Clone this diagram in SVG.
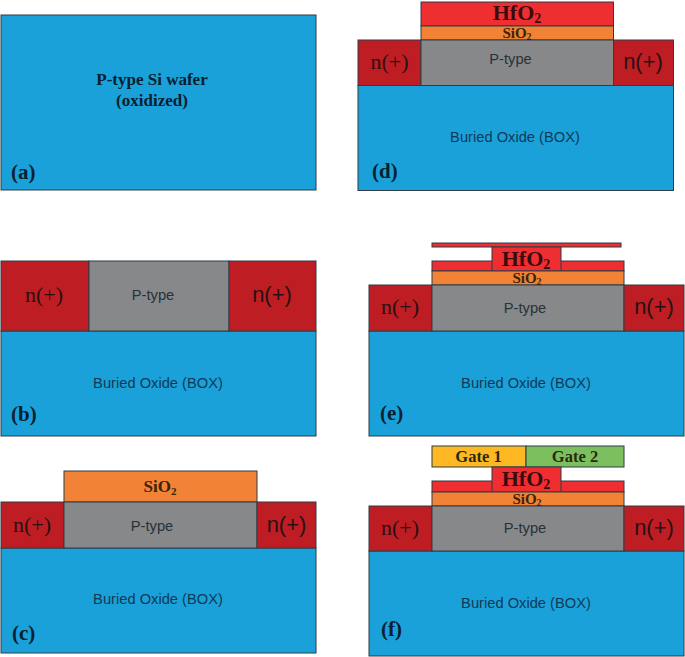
<svg xmlns="http://www.w3.org/2000/svg" width="685" height="657" viewBox="0 0 685 657">
<style>
rect{stroke:#2f3c46;stroke-width:1}
.box{fill:#1ba1da}.n{fill:#be1e23}.p{fill:#87888a}.si{fill:#f28235}.hf{fill:#ee2e31}.g1{fill:#fdb823}.g2{fill:#7cbf5f}
text{text-anchor:middle}
.s{font-family:"Liberation Sans",Arial,sans-serif;font-size:14.7px;fill:#26323a}
.bx{fill:#0f3a56}
.ns{font-family:"Liberation Sans",Arial,sans-serif;font-size:22px;fill:#2a1012}
.nf{font-family:"Liberation Serif","Times New Roman",serif;font-size:22px;fill:#2a1012}
.l{font-family:"Liberation Serif","Times New Roman",serif;font-weight:bold;font-size:21px;fill:#08202f;text-anchor:start}
.hft{font-family:"Liberation Serif","Times New Roman",serif;font-weight:bold;font-size:22px;fill:#3a0c0e}
.sit{font-family:"Liberation Serif","Times New Roman",serif;font-weight:bold;font-size:15px;fill:#3a2408}
.g{font-family:"Liberation Serif","Times New Roman",serif;font-weight:bold;font-size:16.5px;fill:#2a2a10}
.a{font-family:"Liberation Serif","Times New Roman",serif;font-weight:bold;font-size:17px;fill:#08202f}
</style>
<g id="panel-a">
<rect class="box" x="1" y="15" width="315" height="175"/>
<text class="a" x="152" y="85">P-type Si wafer</text>
<text class="a" x="152" y="106">(oxidized)</text>
<text class="l" x="11" y="179">(a)</text>
</g>
<g id="panel-b">
<rect class="box" x="1" y="331" width="315" height="105"/>
<rect class="n" x="1" y="261" width="88" height="70"/>
<rect class="p" x="89" y="261" width="140" height="70"/>
<rect class="n" x="229" y="261" width="87" height="70"/>
<text class="nf" x="44" y="302">n(+)</text>
<text class="s" x="153" y="300">P-type</text>
<text class="ns" x="272" y="302">n(+)</text>
<text class="s bx" x="158" y="388">Buried Oxide (BOX)</text>
<text class="l" x="11" y="421">(b)</text>
</g>
<g id="panel-c">
<rect class="box" x="1" y="548" width="315" height="105"/>
<rect class="si" x="64" y="471" width="193" height="31"/>
<rect class="n" x="1" y="502" width="63" height="46"/>
<rect class="p" x="64" y="502" width="193" height="46"/>
<rect class="n" x="257" y="502" width="59" height="46"/>
<text class="sit" x="160" y="492" style="font-size:17px">SiO<tspan font-size="11" dy="3">2</tspan></text>
<text class="nf" x="32" y="532">n(+)</text>
<text class="s" x="152" y="531">P-type</text>
<text class="ns" x="286.500" y="532">n(+)</text>
<text class="s bx" x="158" y="604">Buried Oxide (BOX)</text>
<text class="l" x="12" y="640">(c)</text>
</g>
<g id="panel-d">
<rect class="box" x="358" y="85.5" width="315.500" height="105"/>
<rect class="hf" x="421" y="2" width="192.500" height="24"/>
<rect class="si" x="421" y="26" width="192.500" height="14"/>
<rect class="n" x="358" y="40" width="63" height="45.500"/>
<rect class="p" x="421" y="40" width="192.500" height="45.500"/>
<rect class="n" x="613.500" y="40" width="60" height="45.500"/>
<text class="hft" x="517" y="20">HfO<tspan font-size="14" dy="3">2</tspan></text>
<text class="sit" x="517" y="37.500">SiO<tspan font-size="10" dy="2">2</tspan></text>
<text class="nf" x="389.500" y="69">n(+)</text>
<text class="s" x="510.500" y="64">P-type</text>
<text class="ns" x="643" y="69">n(+)</text>
<text class="s bx" x="515" y="142">Buried Oxide (BOX)</text>
<text class="l" x="372" y="178">(d)</text>
</g>
<g id="panel-e">
<rect class="box" x="369" y="331" width="315" height="105"/>
<rect class="hf" x="432" y="243" width="189" height="4"/>
<rect class="hf" x="432" y="261" width="192" height="10"/>
<rect class="hf" x="492" y="247" width="69" height="24"/>
<rect class="si" x="432" y="271" width="192" height="14"/>
<rect class="n" x="369" y="285" width="63" height="46"/>
<rect class="p" x="432" y="285" width="192" height="46"/>
<rect class="n" x="624" y="285" width="60" height="46"/>
<text class="hft" x="526" y="266">HfO<tspan font-size="14" dy="3">2</tspan></text>
<text class="sit" x="527" y="283">SiO<tspan font-size="10" dy="2">2</tspan></text>
<text class="nf" x="400" y="314">n(+)</text>
<text class="s" x="525" y="313">P-type</text>
<text class="ns" x="654" y="314">n(+)</text>
<text class="s bx" x="526" y="387.500">Buried Oxide (BOX)</text>
<text class="l" x="380" y="420">(e)</text>
</g>
<g id="panel-f">
<rect class="box" x="369" y="551" width="315" height="105"/>
<rect class="g1" x="432" y="446" width="94" height="21"/>
<rect class="g2" x="526" y="446" width="98" height="21"/>
<rect class="hf" x="432" y="481" width="192" height="11"/>
<rect class="hf" x="492" y="467" width="69" height="25"/>
<rect class="si" x="432" y="492" width="192" height="14"/>
<rect class="n" x="369" y="506" width="63" height="45"/>
<rect class="p" x="432" y="506" width="192" height="45"/>
<rect class="n" x="624" y="506" width="60" height="45"/>
<text class="g" x="478.500" y="462">Gate 1</text>
<text class="g" x="575" y="462">Gate 2</text>
<text class="hft" x="526" y="486">HfO<tspan font-size="14" dy="3">2</tspan></text>
<text class="sit" x="527" y="503.500">SiO<tspan font-size="10" dy="2">2</tspan></text>
<text class="nf" x="400" y="535">n(+)</text>
<text class="s" x="525" y="533">P-type</text>
<text class="ns" x="654" y="535">n(+)</text>
<text class="s bx" x="526" y="608">Buried Oxide (BOX)</text>
<text class="l" x="381" y="636">(f)</text>
</g>
</svg>
